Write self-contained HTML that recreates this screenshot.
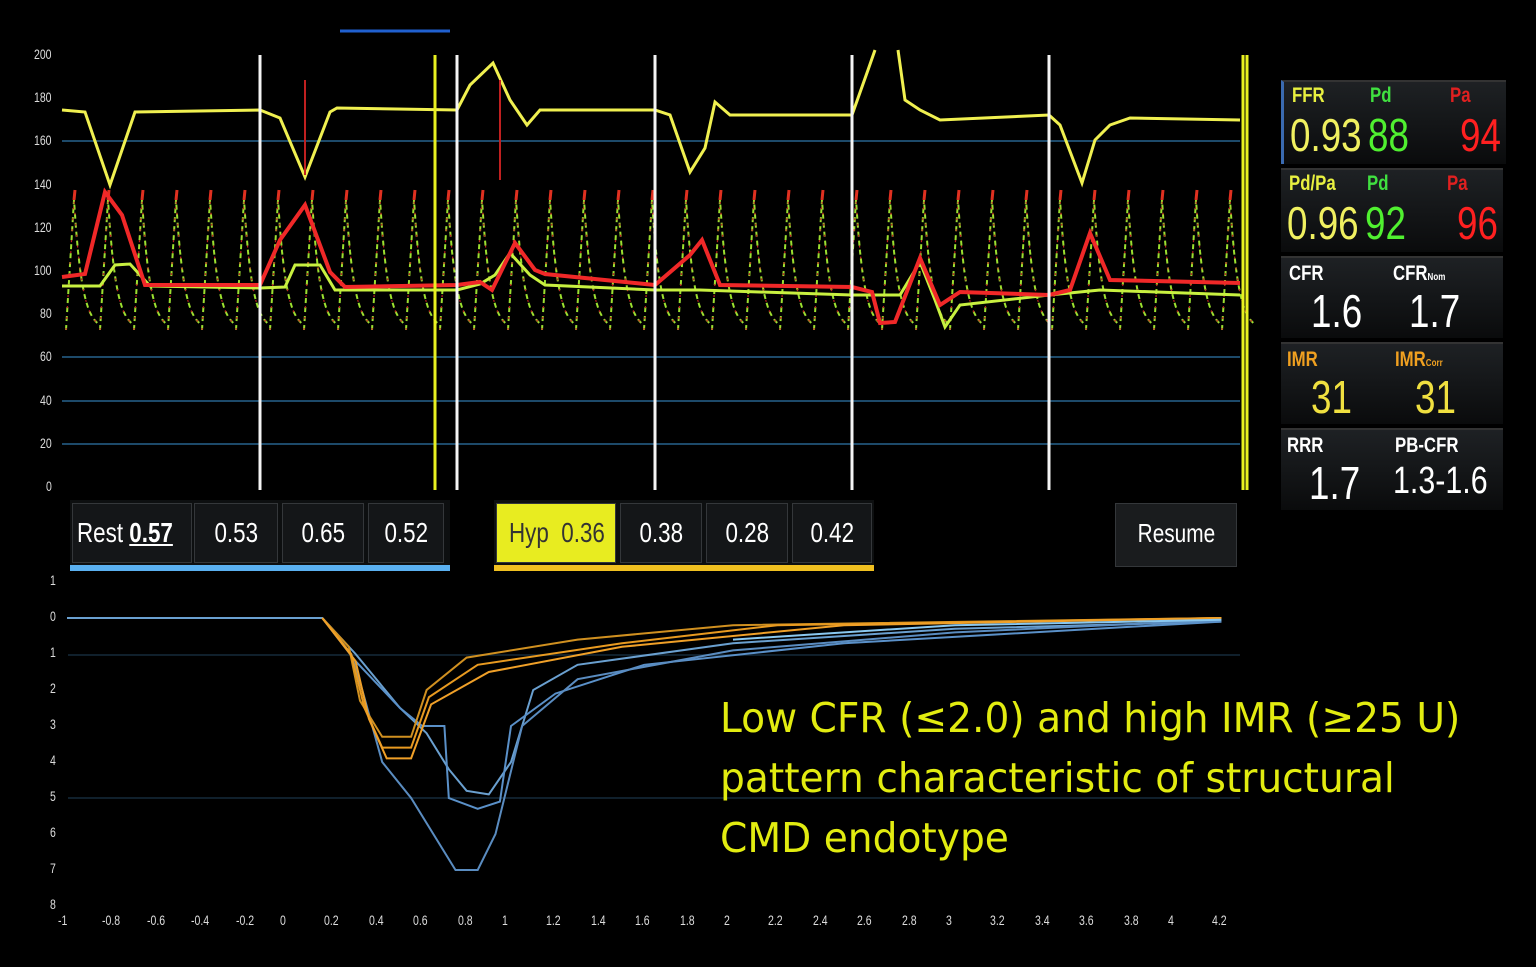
<!DOCTYPE html>
<html><head><meta charset="utf-8">
<style>
body{margin:0;background:#000;width:1536px;height:967px;overflow:hidden;font-family:"Liberation Sans",sans-serif;}
*{white-space:nowrap}
.p{position:absolute;}
.yl{position:absolute;color:#ddd;font-size:14px;transform:scaleX(0.75);transform-origin:left;}
.cell{position:absolute;top:503px;height:58px;background:#141618;border:1px solid #34373a;color:#fff;font-size:28px;line-height:58px;text-align:center;}
.cell span{display:inline-block;transform:scaleX(0.8)}
.pv{position:absolute;left:1281px;width:222px;background:linear-gradient(#1e2124,#0a0b0c);border-top:2px solid #333;}
.lab{position:absolute;font-size:21px;font-weight:bold;transform:scaleX(0.8);transform-origin:left;}
.val{position:absolute;font-size:46px;transform:scaleX(0.8);transform-origin:left;}
</style></head><body>
<svg class="p" style="left:0;top:0" width="1536" height="967" id="s">
<g stroke="#1d4a6a" stroke-width="2">
<line x1="62" y1="141" x2="1240" y2="141"/><line x1="62" y1="357" x2="1240" y2="357"/>
<line x1="62" y1="401" x2="1240" y2="401"/><line x1="62" y1="444" x2="1240" y2="444"/>
<line x1="68" y1="655" x2="1240" y2="655" stroke="#10202c"/><line x1="68" y1="798" x2="1240" y2="798" stroke="#10202c"/>
</g>
<line x1="340" y1="31" x2="450" y2="31" stroke="#2060d0" stroke-width="3"/>
<g id="waves"></g>
<g stroke="#f4f4f4" stroke-width="3">
<line x1="260" y1="55" x2="260" y2="490"/><line x1="457" y1="55" x2="457" y2="490"/>
<line x1="655" y1="55" x2="655" y2="490"/><line x1="852" y1="55" x2="852" y2="490"/>
<line x1="1049" y1="55" x2="1049" y2="490"/>
</g>
<g stroke="#e8f020" stroke-width="3">
<line x1="435" y1="55" x2="435" y2="490"/><line x1="1243" y1="55" x2="1243" y2="490"/><line x1="1247" y1="55" x2="1247" y2="490"/>
</g>
<g id="bot"></g>
</svg>
<div id="ylab"></div>

<div class="p" style="left:70px;top:500px;width:380px;height:70px;background:#0d0f10;"></div>
<div class="p" style="left:70px;top:565px;width:380px;height:6px;background:#5ab0f0;"></div>
<div class="cell" style="left:72px;width:118px;text-align:left"><span style="transform-origin:left;margin-left:4px">Rest <u><b>0.57</b></u></span></div>
<div class="cell" style="left:194px;width:82px"><span>0.53</span></div>
<div class="cell" style="left:282px;width:80px"><span>0.65</span></div>
<div class="cell" style="left:368px;width:74px"><span>0.52</span></div>
<div class="p" style="left:494px;top:500px;width:380px;height:70px;background:#0d0f10;"></div>
<div class="p" style="left:494px;top:565px;width:380px;height:6px;background:#f0c020;"></div>
<div class="cell" style="left:496px;width:118px;background:#e8ec20;color:#333"><span>Hyp &nbsp;0.36</span></div>
<div class="cell" style="left:620px;width:80px"><span>0.38</span></div>
<div class="cell" style="left:706px;width:80px"><span>0.28</span></div>
<div class="cell" style="left:792px;width:78px"><span>0.42</span></div>
<div class="cell" style="left:1115px;top:503px;width:120px;height:62px;font-size:26px;background:#1a1c1e"><span>Resume</span></div>

<div class="pv" style="top:80px;height:82px;border-left:3px solid #3a6ab0">
<div class="lab" style="left:8px;top:2px;color:#e8f040">FFR</div><div class="lab" style="left:86px;top:2px;color:#40e040">Pd</div><div class="lab" style="left:166px;top:2px;color:#e02020">Pa</div>
<div class="val" style="left:6px;top:26px;color:#f0f060">0.93</div><div class="val" style="left:84px;top:26px;color:#50f030">88</div><div class="val" style="left:176px;top:26px;color:#ff2020">94</div></div>
<div class="pv" style="top:168px;height:82px">
<div class="lab" style="left:8px;top:2px;color:#e8f040">Pd/Pa</div><div class="lab" style="left:86px;top:2px;color:#40e040">Pd</div><div class="lab" style="left:166px;top:2px;color:#e02020">Pa</div>
<div class="val" style="left:6px;top:26px;color:#f0f060">0.96</div><div class="val" style="left:84px;top:26px;color:#50f030">92</div><div class="val" style="left:176px;top:26px;color:#ff2020">96</div></div>
<div class="pv" style="top:256px;height:80px">
<div class="lab" style="left:8px;top:4px;color:#fff">CFR</div><div class="lab" style="left:112px;top:4px;color:#fff">CFR<small style="font-size:10px">Nom</small></div>
<div class="val" style="left:30px;top:26px;color:#fff">1.6</div><div class="val" style="left:128px;top:26px;color:#fff">1.7</div></div>
<div class="pv" style="top:342px;height:80px">
<div class="lab" style="left:6px;top:4px;color:#f0a020">IMR</div><div class="lab" style="left:114px;top:4px;color:#f0a020">IMR<small style="font-size:10px">Corr</small></div>
<div class="val" style="left:30px;top:26px;color:#f0e040">31</div><div class="val" style="left:134px;top:26px;color:#f0e040">31</div></div>
<div class="pv" style="top:428px;height:80px">
<div class="lab" style="left:6px;top:4px;color:#fff">RRR</div><div class="lab" style="left:114px;top:4px;color:#fff">PB-CFR</div>
<div class="val" style="left:28px;top:26px;color:#fff">1.7</div><div class="val" style="left:112px;top:30px;color:#fff;font-size:38px">1.3-1.6</div></div>

<div class="p" style="left:720px;top:688px;color:#e2ec10;font-size:41px;line-height:60px;font-family:'DejaVu Sans','Liberation Sans',sans-serif;transform:scaleX(0.955);transform-origin:left">Low CFR (≤2.0) and high IMR (≥25 U)<br>pattern characteristic of structural<br>CMD endotype</div>

<script>
var NS="http://www.w3.org/2000/svg";
function path(g,d,st,w,da){var p=document.createElementNS(NS,"path");p.setAttribute("d",d);p.setAttribute("fill","none");p.setAttribute("stroke",st);p.setAttribute("stroke-width",w);if(da)p.setAttribute("stroke-dasharray",da);document.getElementById(g).appendChild(p);}
function pl(a){return "M"+a.map(function(p){return p[0]+","+p[1]}).join(" L");}
var d1="",d2="";
for(var x=66;x<1235;x+=34){d1+="M"+x+",330 L"+(x+8)+",200 ";for(var k=1;k<=13;k++){var xx=x+8+k*2;d1+="L"+xx+","+(330-130*Math.exp(-k/4)).toFixed(1)+" ";}
d2+="M"+(x+8)+",200 L"+(x+9)+",190 ";}
path("waves",d1,"#9ce030",2,"5 4");path("waves",d1,"#c02020",1.2,"2 9");path("waves",d2,"#e03020",3);
path("waves",pl([[62,286],[100,286],[115,265],[130,264],[140,275],[150,286],[260,288],[285,287],[295,265],[320,265],[335,290],[457,290],[480,284],[495,275],[510,253],[530,275],[545,285],[655,290],[700,290],[852,295],[900,295],[920,262],[935,300],[945,327],[960,305],[1049,295],[1100,290],[1240,295]]),"#c8f040",3);
path("waves",pl([[62,277],[85,274],[105,192],[122,215],[145,285],[260,285],[280,240],[305,205],[330,272],[345,287],[457,285],[480,282],[492,290],[515,243],[535,270],[545,274],[655,285],[690,255],[702,240],[720,285],[852,287],[872,292],[880,323],[895,322],[920,258],[940,305],[960,292],[1049,295],[1070,290],[1090,233],[1110,280],[1240,283]]),"#f02828",4);
path("waves",pl([[62,110],[85,112],[110,185],[135,112],[260,110],[280,118],[305,177],[330,112],[337,108],[457,110],[470,85],[493,63],[510,100],[527,125],[540,110],[655,110],[670,115],[690,172],[705,148],[715,102],[730,115],[852,115],[868,70],[875,50]]),"#f0f050",3);
path("waves",pl([[898,50],[905,100],[920,110],[940,120],[1049,115],[1060,125],[1082,183],[1095,140],[1110,125],[1130,118],[1240,120]]),"#f0f050",3);
path("waves","M500,80 L500,180 M305,80 L305,175","#c02020",2);
var yl=[200,180,160,140,120,100,80,60,40,20,0],h="";
yl.forEach(function(v){h+='<div class="yl" style="left:'+(v>=100?34:(v>0?40:46))+'px;top:'+(487-v*2.16-9)+'px">'+v+'</div>';});
var bl=["1","0","1","2","3","4","5","6","7","8"];
bl.forEach(function(v,i){h+='<div class="yl" style="left:50px;top:'+(581+i*36-9)+'px">'+v+'</div>';});
var xs=["-1","-0.8","-0.6","-0.4","-0.2","0","0.2","0.4","0.6","0.8","1","1.2","1.4","1.6","1.8","2","2.2","2.4","2.6","2.8","3","3.2","3.4","3.6","3.8","4","4.2"];
xs.forEach(function(v,i){h+='<div class="yl" style="left:'+(66+i*44.4-8)+'px;top:912px">'+v+'</div>';});
document.getElementById("ylab").innerHTML=h;
function bc(a){return pl(a.map(function(p){return [(289+222*p[0]).toFixed(1),(618+36*p[1]).toFixed(1)]}));}
var bot=[
["#6aa0d0",[[-1,0],[0.15,0],[0.3,1],[0.5,2.5],[0.62,3.2],[0.72,4.2],[0.8,4.8],[0.9,4.9],[1,4],[1.1,2],[1.3,1.3],[2,0.7],[3,0.3],[4.2,0.1]]],
["#5a90c8",[[0.15,0],[0.3,1.2],[0.5,2.5],[0.6,3],[0.7,3],[0.72,5],[0.85,5.3],[0.95,5.1],[1,3],[1.2,2.1],[1.6,1.3],[2.5,0.7],[4.2,0.1]]],
["#5a8cc0",[[0.15,0],[0.28,1],[0.33,2],[0.42,4],[0.55,5],[0.75,7],[0.85,7],[0.93,6],[1.05,3],[1.3,1.7],[2,0.9],[3,0.4],[4.2,0.05]]],
["#d09020",[[0.15,0],[0.27,0.8],[0.32,2.3],[0.42,3.3],[0.55,3.3],[0.62,2],[0.8,1.1],[1.3,0.6],[2,0.2],[4.2,0]]],
["#e89a20",[[0.15,0],[0.28,1],[0.34,2.5],[0.42,3.6],[0.55,3.6],[0.63,2.2],[0.85,1.3],[1.5,0.7],[2.2,0.2],[4.2,0]]],
["#f0a028",[[0.15,0],[0.3,1.2],[0.36,2.8],[0.44,3.9],[0.55,3.9],[0.64,2.4],[0.9,1.5],[1.5,0.8],[2.5,0.2],[4.2,0]]],
["#8ac8f0",[[2,0.6],[3,0.2],[4.2,0.05]]]];
bot.forEach(function(b){path("bot",bc(b[1]),b[0],2);});
</script>
</body></html>
